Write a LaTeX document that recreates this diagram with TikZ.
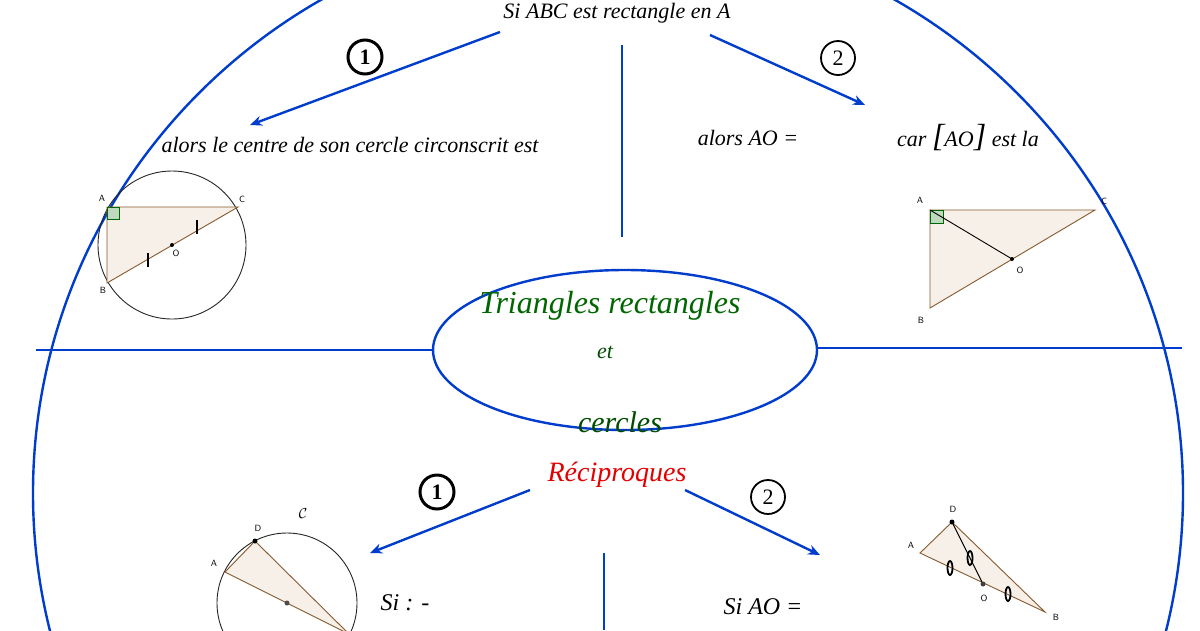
\documentclass[tikz,border=0pt]{standalone}
\usepackage{fontspec}
\setmainfont{Liberation Serif}
\usetikzlibrary{shapes.geometric,arrows.meta}
\begin{document}
\begin{tikzpicture}[x=1pt,y=-1pt,
  blue line/.style={draw=blue!70!cyan!80!black, line width=2.4pt},
  arr/.style={blue line, -{Stealth[length=12pt,width=10pt]}},
  hand/.style={font=\itshape\fontsize{22}{24}\selectfont},
  num/.style={circle, draw=black, line width=3pt, inner sep=1.5pt, minimum size=34pt, font=\bfseries\fontsize{22}{22}\selectfont},
  tri/.style={draw=brown!70!black, fill=brown!12, line width=0.9pt},
  lbl/.style={font=\sffamily\fontsize{9}{9}\selectfont},
  tick/.style={line width=2pt}]
\useasboundingbox (0,0) rectangle (1200,630);
\fill[white] (0,0) rectangle (1200,630);
\draw[blue line] (608,493) ellipse [x radius=575, y radius=569];
\node[blue line, ellipse, minimum width=384pt, minimum height=160pt] (center) at (625,350) {};
\coordinate (hl1) at (36,350); \coordinate (hl2) at (433,350);
\coordinate (hr1) at (817,348); \coordinate (hr2) at (1182,348);
\coordinate (vt1) at (622,45); \coordinate (vt2) at (622,237);
\coordinate (vb1) at (604,553); \coordinate (vb2) at (604,630);
\draw[blue line] (hl1) -- (hl2);
\draw[blue line] (hr1) -- (hr2);
\draw[blue line] (vt1) -- (vt2);
\draw[blue line] (vb1) -- (vb2);
% texts
\node[hand] (si) at (617,13) {Si ABC est rectangle en A};
\node[hand] (alors1) at (350,145) {alors le centre de son cercle circonscrit est};
\node[hand] (alors2) at (748,138) {alors AO =};
\node[hand] (car) at (968,138) {car {\fontsize{32}{32}\selectfont[}AO{\fontsize{32}{32}\selectfont]} est la};
\node[font=\itshape\fontsize{32}{34}\selectfont, text=green!40!black] (t1) at (610,306) {Triangles rectangles};
\node[hand, text=green!30!black] (et) at (605,352) {et};
\node[font=\itshape\fontsize{30}{32}\selectfont, text=green!30!black] (cer) at (620,422) {cercles};
\node[font=\itshape\fontsize{28}{30}\selectfont, text=red!90!black] (rec) at (617,475) {Réciproques};
\node[font=\itshape\fontsize{24}{26}\selectfont] (si1) at (405,603) {Si : -};
\node[font=\itshape\fontsize{24}{26}\selectfont] (si2) at (763,607) {Si AO =};
% arrows
\coordinate (a1s) at (500,32); \coordinate (a1e) at (250,125);
\coordinate (a2s) at (710,35); \coordinate (a2e) at (865,105);
\coordinate (a3s) at (530,490); \coordinate (a3e) at (370,553);
\coordinate (a4s) at (685,490); \coordinate (a4e) at (820,555);
\draw[arr] (a1s) -- (a1e);
\draw[arr] (a2s) -- (a2e);
\draw[arr] (a3s) -- (a3e);
\draw[arr] (a4s) -- (a4e);
\node[num] (n1) at (365,57) {1};
\node[num, line width=1.8pt, font=\fontsize{22}{22}\selectfont] (n2) at (838,58) {2};
\node[num] (n3) at (437,492) {1};
\node[num, line width=1.8pt, font=\fontsize{22}{22}\selectfont] (n4) at (768,497) {2};
% fig 1
\draw[gray!30!black, line width=0.9pt] (172,245) circle [radius=74];
\draw[tri] (107,207) -- (238,207) -- (107,283) -- cycle;
\draw[draw=green!40!black, fill=green!25!gray!40] (107,207) rectangle (119,219);
\fill (172,245) circle (2);
\draw[tick] (148,253) -- (148,267);
\draw[tick] (197,220) -- (197,234);
\node[lbl] at (102,198) {A};
\node[lbl] at (242,199) {C};
\node[lbl] at (103,290) {B};
\node[lbl] at (176,253) {O};
% fig 2
\draw[tri] (930,210) -- (1095,210) -- (930,308) -- cycle;
\draw[draw=green!40!black, fill=green!25!gray!40] (930,210) rectangle (943,223);
\draw[line width=0.9pt] (930,210) -- (1012,259);
\fill (1012,259) circle (2);
\node[lbl] at (920,200) {A};
\node[lbl] at (1104,201) {C};
\node[lbl] at (921,320) {B};
\node[lbl] at (1020,270) {O};
% fig 3
\draw[gray!30!black, line width=0.9pt] (287,603) circle [radius=70];
\draw[tri] (225,572) -- (255,541) -- (349,634) -- cycle;
\fill (255,541) circle (2.5);
\fill[gray!60!black] (287,603) circle (2.5);
\node[lbl] at (258,528) {D};
\node[lbl] at (214,563) {A};
\node[font=\fontsize{14}{14}\selectfont] at (303,514) {$\mathcal{C}$};
% fig 4
\draw[tri] (920,553) -- (952,522) -- (1045,612) -- cycle;
\draw[line width=1pt] (952,522) -- (983,584);
\fill (952,522) circle (2.5);
\fill[gray!50!black] (983,584) circle (2.5);
\draw[line width=1.8pt] (950,568) ellipse [x radius=2.5, y radius=7];
\draw[line width=1.8pt] (970,558) ellipse [x radius=2.5, y radius=7];
\draw[line width=1.8pt] (1008,594) ellipse [x radius=2.5, y radius=7];
\node[lbl] at (953,509) {D};
\node[lbl] at (911,545) {A};
\node[lbl] at (984,598) {O};
\node[lbl] at (1056,617) {B};
\end{tikzpicture}
\end{document}
